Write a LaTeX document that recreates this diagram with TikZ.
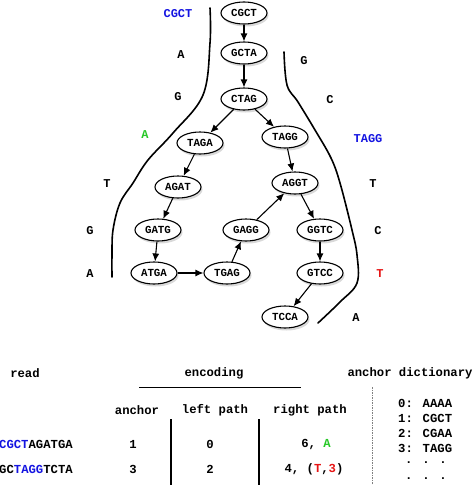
\documentclass[tikz,border=0pt]{standalone}
\usepackage{fontspec}
\setmainfont{Liberation Mono}
\usetikzlibrary{shapes.geometric,arrows.meta,shadows}
\definecolor{sblue}{RGB}{20,20,225}
\definecolor{sgreen}{RGB}{40,200,40}
\definecolor{sred}{RGB}{230,20,20}
\begin{document}
\begin{tikzpicture}[x=1pt,y=-1pt,
  kmer/.style={ellipse,draw,line width=1.1pt,fill=white,minimum width=46pt,minimum height=22pt,inner sep=0pt,
    font=\fontsize{10.8}{12}\selectfont\bfseries,
    drop shadow={opacity=0.3,shadow xshift=1.5pt,shadow yshift=-2.5pt}},
  edge/.style={-{Latex[length=8pt,width=7pt]},line width=1.1pt},
  side/.style={font=\fontsize{12}{14}\selectfont\bfseries},
  tab/.style={font=\fontsize{12.25}{14}\selectfont\bfseries},
  boundary/.style={line width=1.6pt,line cap=round}]
\useasboundingbox (0,0) rectangle (473,485);
% nodes
\node[kmer] (cgct) at (244,13) {CGCT};
\node[kmer] (gcta) at (244,53) {GCTA};
\node[kmer] (ctag) at (244,99) {CTAG};
\node[kmer] (taga) at (200,143) {TAGA};
\node[kmer] (tagg) at (285,137) {TAGG};
\node[kmer] (agat) at (178,187) {AGAT};
\node[kmer] (aggt) at (295,183) {AGGT};
\node[kmer] (gatg) at (158,230) {GATG};
\node[kmer] (gagg) at (246,230) {GAGG};
\node[kmer] (ggtc) at (320,230) {GGTC};
\node[kmer] (atga) at (154,273) {ATGA};
\node[kmer] (tgag) at (227,273) {TGAG};
\node[kmer] (gtcc) at (320,273) {GTCC};
\node[kmer] (tcca) at (285,317) {TCCA};
% edges
\draw[edge] (cgct) -- (gcta);
\draw[edge] (gcta) -- (ctag);
\draw[edge] (ctag) -- (taga);
\draw[edge] (ctag) -- (tagg);
\draw[edge] (taga) -- (agat);
\draw[edge] (agat) -- (gatg);
\draw[edge] (gatg) -- (atga);
\draw[edge] (atga) -- (tgag);
\draw[edge] (tgag) -- (gagg);
\draw[edge] (gagg) -- (aggt);
\draw[edge] (tagg) -- (aggt);
\draw[edge] (aggt) -- (ggtc);
\draw[edge] (ggtc) -- (gtcc);
\draw[edge] (gtcc) -- (tcca);
% boundary curves
\draw[boundary] plot[smooth,tension=0.6] coordinates {(210,8) (210,43) (203,95) (173,133) (148,160) (133,183) (120,203) (113,230) (112,255) (112,277)};
\draw[boundary] plot[smooth,tension=0.6] coordinates {(284,52) (287,85) (298,102) (315,130) (331,158) (340,183) (352,230) (357,255) (357,283) (340,302) (318,323)};
% side letters left
\node[side,text=sblue] (l0) at (178,14) {CGCT};
\node[side] (l1) at (181,55) {A};
\node[side] (l2) at (178,97) {G};
\node[side,text=sgreen] (l3) at (145,135) {A};
\node[side] (l4) at (107,184) {T};
\node[side] (l5) at (90,231) {G};
\node[side] (l6) at (90,274) {A};
% side letters right
\node[side] (r1) at (304,61) {G};
\node[side] (r2) at (330,100) {C};
\node[side,text=sblue] (r3) at (368,139) {TAGG};
\node[side] (r4) at (373,184) {T};
\node[side] (r5) at (378,231) {C};
\node[side,text=sred] (r6) at (380,274) {T};
\node[side] (r7) at (356,318) {A};
% table
\node[tab] (hread) at (25,373) {read};
\node[tab] (henc) at (214,373) {encoding};
\node[tab] (hdict) at (410,373) {anchor dictionary};
\draw[line width=1pt] (139,387) -- (301,387);
\node[tab] (hanc) at (137,410) {anchor};
\node[tab] (hleft) at (215,410) {left path};
\node[tab] (hright) at (310,410) {right path};
\draw[line width=1.3pt] (171,419) -- (171,485);
\draw[line width=1.3pt] (259,419) -- (259,485);
\draw[gray,line width=0.9pt,dash pattern=on 1.5pt off 1pt] (372,387) -- (372,485);
\node[tab,anchor=west,inner sep=0pt] (read1) at (-1,444) {\textcolor{sblue}{CGCT}AGATGA};
\node[tab,anchor=west,inner sep=0pt] (read2) at (-1,469) {GC\textcolor{sblue}{TAGG}TCTA};
\node[tab] (a1) at (133,444) {1};
\node[tab] (a2) at (133,469) {3};
\node[tab] (lp1) at (210,444) {0};
\node[tab] (lp2) at (210,469) {2};
\node[tab] (rp1) at (316,444) {6, \textcolor{sgreen}{A}};
\node[tab] (rp2) at (314,469) {4, (\textcolor{sred}{T},\textcolor{sred}{3})};
\node[tab,anchor=west,inner sep=0pt] (d0) at (398,403) {0: AAAA};
\node[tab,anchor=west,inner sep=0pt] (d1) at (398,418) {1: CGCT};
\node[tab,anchor=west,inner sep=0pt] (d2) at (398,433) {2: CGAA};
\node[tab,anchor=west,inner sep=0pt] (d3) at (398,448) {3: TAGG};
\node[tab] (d4) at (426,463) {. . .};
\node[tab] (d5) at (426,479) {. . .};
\end{tikzpicture}
\end{document}
